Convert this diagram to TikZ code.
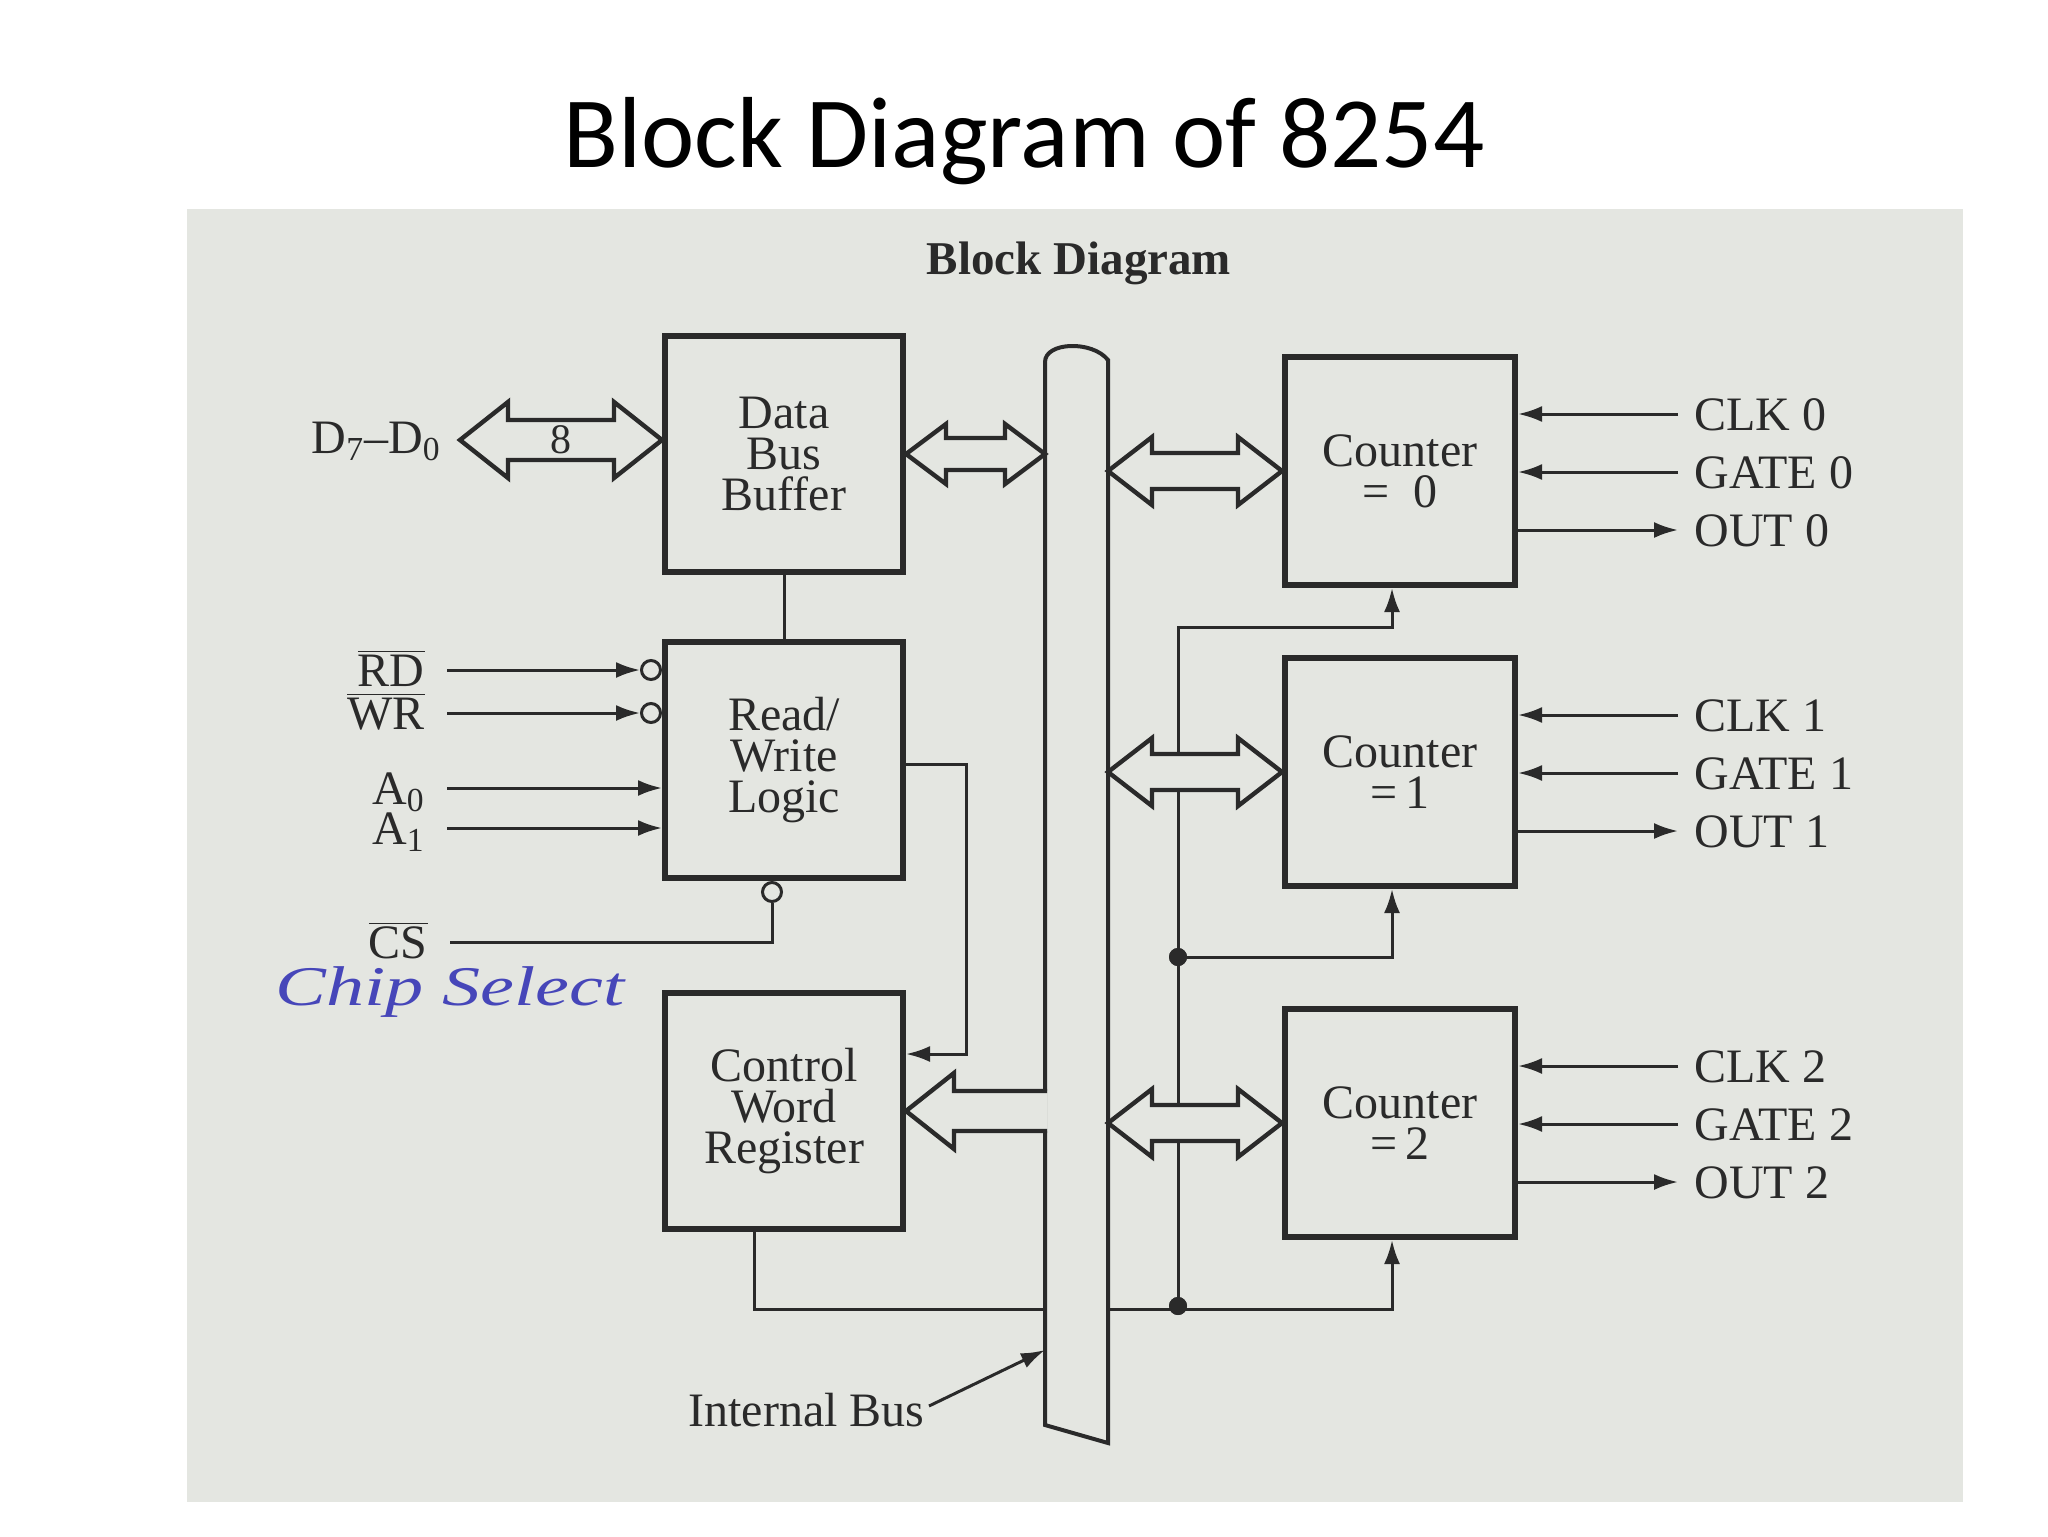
\documentclass[tikz,border=0pt]{standalone}
\usepackage{fontspec}
\setmainfont{Liberation Serif}
\newfontfamily\titlefont{Carlito}
\usetikzlibrary{arrows.meta,calc}
\definecolor{paper}{RGB}{228,230,225}
\definecolor{ink}{RGB}{42,42,42}
\definecolor{pen}{RGB}{70,70,185}
\newcommand\fatdbl[5]{\path[fat] let \p1=#1, \p2=#2 in (\x1,\y1) -- (\x1+#3,\y1+#4) -- (\x1+#3,\y1+#5) -- (\x2-#3,\y1+#5) -- (\x2-#3,\y1+#4) -- (\x2,\y1) -- (\x2-#3,\y1-#4) -- (\x2-#3,\y1-#5) -- (\x1+#3,\y1-#5) -- (\x1+#3,\y1-#4) -- cycle;}
\newcommand\fatsgl[5]{%
 \fill[paper] let \p1=#1, \p2=#2 in (\x1,\y1) -- (\x1+#3,\y1+#4) -- (\x1+#3,\y1+#5) -- (\x2+1.3pt,\y1+#5) -- (\x2+1.3pt,\y1-#5) -- (\x1+#3,\y1-#5) -- (\x1+#3,\y1-#4) -- cycle;
 \draw[fat, fill=none] let \p1=#1, \p2=#2 in (\x2+1pt,\y1+#5) -- (\x1+#3,\y1+#5) -- (\x1+#3,\y1+#4) -- (\x1,\y1) -- (\x1+#3,\y1-#4) -- (\x1+#3,\y1-#5) -- (\x2+1pt,\y1-#5);}
\begin{document}
\begin{tikzpicture}[x=0.5pt,y=-0.5pt,
  blk/.style={draw=ink, line width=3pt, fill=paper, inner sep=0pt, align=center, text=ink, font=\fontsize{24}{20.5}\selectfont},
  leftblk/.style={blk, minimum width=119pt, minimum height=118pt},
  cntblk/.style={blk, minimum width=115pt, minimum height=114pt},
  wire/.style={draw=ink, line width=1.5pt},
  sig/.style={wire, -{Latex[length=12pt,width=8pt]}},
  lbl/.style={font=\fontsize{24}{24}\selectfont, text=ink, inner sep=0pt},
  bubble/.style={circle, draw=ink, line width=1.5pt, fill=paper, minimum size=9.5pt, inner sep=0pt},
  junction/.style={circle, fill=ink, minimum size=9pt, inner sep=0pt},
  fat/.style={draw=ink, line width=2.2pt, fill=paper, line join=miter}
]
\useasboundingbox[fill=white] (0,0) rectangle (2048,1536);
\fill[paper] (187,209) rectangle (1963,1502);

% titles
\node[font=\titlefont\fontsize{50.5}{55}\selectfont, anchor=base] (title) at (1024,167) {Block Diagram of 8254};
\node[font=\bfseries\fontsize{23.5}{25}\selectfont, text=ink, anchor=base] (sub) at (1079,274) {Block Diagram};

% blocks
\node[leftblk] (dbb) at (784,454) {Data\\Bus\\Buffer};
\node[leftblk] (rwl) at (784,760) {Read/\\Write\\Logic};
\node[leftblk] (cwr) at (784,1111) {Control\\Word\\Register};
\node[cntblk] (c0) at (1400,471) {Counter\\=\ \ 0};
\node[cntblk] (c1) at (1400,772) {Counter\\=\,1};
\node[cntblk] (c2) at (1400,1123) {Counter\\=\,2};

\coordinate (busL) at (1045,0);
\coordinate (busR) at (1108,0);

% counter signals
\foreach \c/\n in {c0/0,c1/1,c2/2} {
  \node[lbl, anchor=base west] (clk\n) at ($(\c.north east)+(176,76)$) {CLK \n};
  \node[lbl, anchor=base west] (gate\n) at ($(\c.north east)+(176,134)$) {GATE \n};
  \node[lbl, anchor=base west] (out\n) at ($(\c.north east)+(176,192)$) {OUT \n};
  \draw[sig] ($(clk\n.base west)+(-16,-16)$) -- ($(\c.north east)+(0,60)$);
  \draw[sig] ($(gate\n.base west)+(-16,-16)$) -- ($(\c.north east)+(0,118)$);
  \draw[sig] ($(\c.north east)+(0,176)$) -- ($(out\n.base west)+(-16,-16)$);
}

% read/write inputs
\node[lbl, anchor=base east] (rd) at ($(rwl.north west)+(-237,47)$) {$\overline{\mbox{RD}}$};
\node[lbl, anchor=base east] (wr) at ($(rwl.north west)+(-237,90)$) {$\overline{\mbox{WR}}$};
\node[lbl, anchor=base east] (a0) at ($(rwl.north west)+(-237,165)$) {A\textsubscript{0}};
\node[lbl, anchor=base east] (a1) at ($(rwl.north west)+(-237,205)$) {A\textsubscript{1}};
\node[bubble, anchor=east] (rdb) at ($(rwl.north west)+(0,31)$) {};
\node[bubble, anchor=east] (wrb) at ($(rwl.north west)+(0,74)$) {};
\draw[sig] ($(rd.base east)+(22,-16)$) -- (rdb.west);
\draw[sig] ($(wr.base east)+(22,-16)$) -- (wrb.west);
\draw[sig] ($(a0.base east)+(22,-16)$) -- ($(rwl.north west)+(0,149)$);
\draw[sig] ($(a1.base east)+(22,-16)$) -- ($(rwl.north west)+(0,189)$);

% chip select
\node[lbl, anchor=base east] (cs) at (428,958) {$\overline{\mbox{CS}}$};
\node[bubble, anchor=north] (csb) at ($(rwl.south)+(-12,0)$) {};
\draw[wire] ($(cs.base east)+(22,-16)$) -| (csb.south);
\node[font=\itshape\fontsize{28}{28}\selectfont, text=pen, xscale=1.36, inner sep=0pt] (chip) at (450,992) {Chip Select};

% data bus
\coordinate (dtip) at (460,440);
\node[lbl, anchor=base east] (dlbl) at (441,453) {D\textsubscript{7}–D\textsubscript{0}};
\draw[wire] (dbb.south) -- (rwl.north);

% internal control wires
\coordinate (rwout) at ($(rwl.north east)+(0,125)$);
\coordinate (cwin) at ($(cwr.north east)+(0,64)$);
\draw[sig] (rwout) -- ($(rwout)+(60,0)$) |- (cwin);

\coordinate (cwout) at ($(cwr.south west)+(92,0)$);
\coordinate (c0in) at ($(c0.south west)+(110,0)$);
\coordinate (c1in) at ($(c1.south west)+(110,0)$);
\coordinate (c2in) at ($(c2.south west)+(110,0)$);
\coordinate (c0turn) at (1178,627);
\node[junction] (jb) at (1178,1306) {};
\node[junction] (jm) at (1178,957) {};
\draw[sig] (cwout) -- ($(cwout)+(0,77)$) -| (c2in);
\draw[sig] (jb.center) -- (c0turn) -| (c0in);
\draw[sig] (jm.center) -| (c1in);

% internal bus
\draw[draw=ink, line width=2pt, fill=paper] (1045,1425) -- (1045,362) .. controls (1045,342) and (1092,340) .. (1108,360) -- (1108,1443) -- cycle;
\node[lbl, anchor=base east] (ib) at (925,1426) {Internal Bus};
\coordinate (ibtip) at (1045,1350);
\draw[sig] ($(ib.base east)+(4,-20)$) -- (ibtip);

% fat bus arrows
\fatdbl{(dtip)}{(dtip -| dbb.west)}{24pt}{19pt}{10pt}
\node[lbl, font=\fontsize{21}{21}\selectfont] (eight) at ($(dtip)!0.5!(dtip -| dbb.west)$) {8};
\fatdbl{(dbb.east)}{(dbb.east -| busL)}{20pt}{15pt}{8pt}
\fatdbl{(c0.west -| busR)}{(c0.west)}{22pt}{17pt}{9pt}
\fatdbl{(c1.west -| busR)}{(c1.west)}{22pt}{17pt}{9pt}
\fatdbl{(c2.west -| busR)}{(c2.west)}{22pt}{17pt}{9pt}
\fatsgl{(cwr.east)}{(cwr.east -| busL)}{24pt}{19pt}{10pt}

% junction dots on top
\node[junction] at (jb) {};
\node[junction] at (jm) {};
\end{tikzpicture}
\end{document}
